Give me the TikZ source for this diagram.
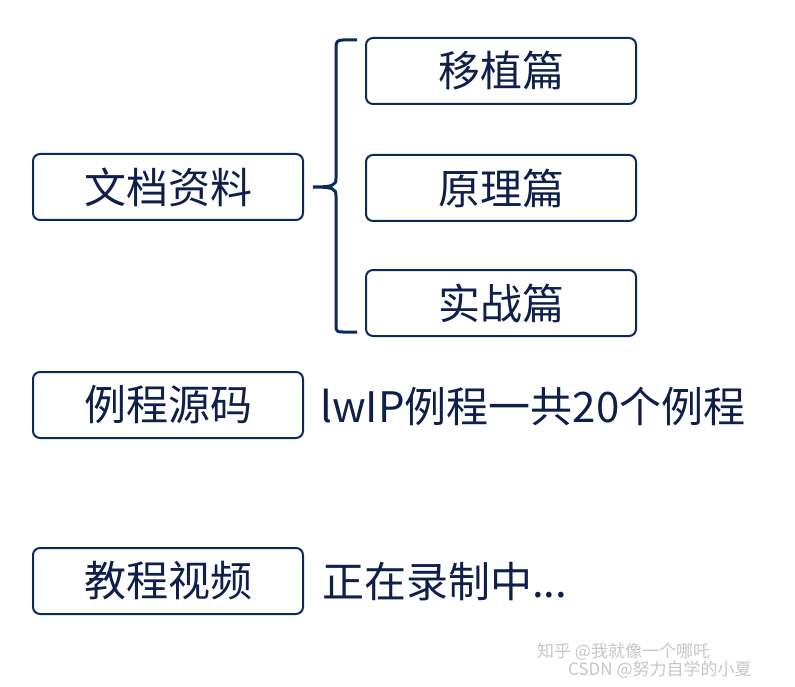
\documentclass[tikz,border=0pt]{standalone}
\usepackage{fontspec}
\setmainfont{Noto Sans CJK SC}
\begin{document}
\begin{tikzpicture}[x=1pt,y=-1pt,
  bx/.style={draw=navy,line width=2pt,rounded corners=7pt,minimum width=270pt,minimum height=66pt,inner sep=0pt,font=\fontsize{42}{46}\selectfont,text=txt},
  lbl/.style={anchor=west,font=\fontsize{42}{46}\selectfont,text=txt,inner sep=0pt},
  wm/.style={anchor=west,font=\fontsize{17}{19}\selectfont,text=gray!45,inner sep=0pt}]
\definecolor{navy}{HTML}{0B2A5C}
\definecolor{txt}{HTML}{0D1F4A}
\useasboundingbox (0,0) rectangle (795,687);
\node[bx] (a) at (168,187) {文档资料};
\node[bx] (b) at (168,405) {例程源码};
\node[bx] (c) at (168,581) {教程视频};
\node[bx] (r1) at (501,71) {移植篇};
\node[bx] (r2) at (501,188) {原理篇};
\node[bx] (r3) at (501,303) {实战篇};
\coordinate (bt) at (313,187);
\draw[navy,line width=3pt] (357,40) -- (343,40) .. controls (337,40) and (336,42) .. (336,48) -- (336,178) .. controls (336,185) and (334,187) .. (bt) .. controls (334,187) and (336,189) .. (336,196) -- (336,326) .. controls (336,331) and (337,332) .. (343,332) -- (357,332);
\node[lbl] (t1) at (320,407) {lwIP例程一共20个例程};
\node[lbl] (t2) at (322,582) {正在录制中...};
\node[wm] (w1) at (537,652) {知乎 @我就像一个哪吒};
\node[wm] (w2) at (568,670) {CSDN @努力自学的小夏};
\end{tikzpicture}
\end{document}
